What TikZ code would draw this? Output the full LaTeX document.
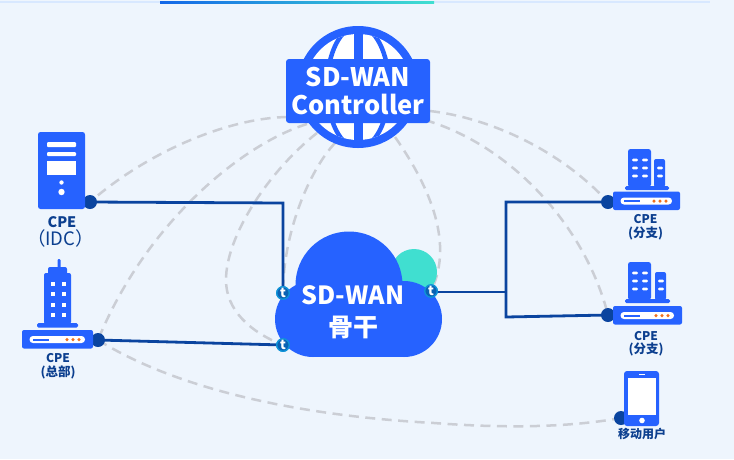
\documentclass[tikz,border=0pt]{standalone}
\usepackage{fontspec}
\setmainfont{Noto Sans CJK SC}
\definecolor{bgc}{HTML}{EEF5FD}
\definecolor{barc}{HTML}{D8E8FF}
\definecolor{barl}{HTML}{1367E8}
\definecolor{mainb}{HTML}{2662FF}
\definecolor{darkb}{HTML}{0A449F}
\definecolor{labelb}{HTML}{0C3F8F}
\definecolor{tealc}{HTML}{40DFD0}
\definecolor{grayd}{HTML}{CBCED5}
\definecolor{orangec}{HTML}{F0701E}
\definecolor{badgec}{HTML}{0E93D8}
\definecolor{badgei}{HTML}{0A62B4}
\pgfdeclarelayer{under}
\pgfsetlayers{under,main}
\tikzset{
  link/.style={draw=darkb,line width=2.8pt,line join=miter},
  sig/.style={draw=grayd,line width=2.5pt,dash pattern=on 10pt off 6.5pt},
  port/.style={circle,fill=darkb,inner sep=0pt,minimum size=14pt},
  badge/.style={circle,fill=badgei,draw=badgec,line width=1.3pt,inner sep=0pt,minimum size=12.5pt,text=white,font=\bfseries\fontsize{13}{13}\selectfont},
  lab/.style={text=labelb,inner sep=0pt,font=\bfseries\fontsize{12}{13}\selectfont},
  slab/.style={text=labelb,inner sep=0pt,font=\bfseries\fontsize{12.5}{13}\selectfont},
}
\newcommand{\routerbox}[3]{% left, right, top
  \fill[mainb,rounded corners=2pt] (#1,#3) rectangle (#2,#3+18.5);
  \fill[white,rounded corners=3.4pt] (#1+7.5,#3+6) rectangle (#2-8,#3+13);
  \fill[mainb] (#1+11,#3+8.7) rectangle (#1+27,#3+10.7);
  \foreach \dx in {0,6,12} {\fill[orangec] (#2-26+\dx,#3+9.6) circle (1.7pt);}
}
\newcommand{\branchicon}[2]{% dy, small-bldg x shift
  \begin{scope}[yshift=-#1pt]
  \fill[mainb,rounded corners=2.5pt] (628,149) -- (651,149) -- (651,187) -- (628,187) -- cycle;
  \fill[mainb,rounded corners=2pt] (654+#2,159) -- (665+#2,159) -- (665+#2,187) -- (654+#2,187) -- cycle;
  \fill[mainb,rounded corners=1.5pt] (625,186) rectangle (669+#2,190);
  \foreach \ry in {160,168,176} {
    \fill[white,rounded corners=1.2pt] (632,\ry-1.3) rectangle (638,\ry+1.3);
    \fill[white,rounded corners=1.2pt] (642,\ry-1.3) rectangle (648,\ry+1.3);
  }
  \foreach \ry in {168,176} {\fill[white,rounded corners=1.2pt] (657+#2,\ry-1.3) rectangle (663+#2,\ry+1.3);}
  \end{scope}
}
\begin{document}
\begin{tikzpicture}[x=1pt,y=-1pt]
\useasboundingbox (0,0) rectangle (734,459);

% named anchors
\node[port] (pIDC) at (90,202) {};
\node[port] (pHQ) at (98,340) {};
\node[port] (pB1) at (608,202) {};
\node[port] (pB2) at (608,315) {};
\node[port] (pM) at (621,418) {};
\node[badge] (t1) at (283,293) {};
\node[badge] (t2) at (283,345) {};
\node[badge] (t3) at (431,291) {};
\coordinate (c1) at (287,117);
\coordinate (c2) at (307,124);
\coordinate (c3) at (317,133);
\coordinate (c4) at (335,143);
\coordinate (c5) at (430,111);
\coordinate (c6) at (395,137);
\coordinate (c7) at (425,120);
\coordinate (jn) at (506,292);

\begin{pgfonlayer}{under}
\fill[bgc] (0,0) rectangle (734,459);
\fill[barc] (0,1) rectangle (710,3);
\shade[left color=barl,right color=tealc] (160,1) rectangle (434,3);
% dashed signalling curves
\draw[sig] (c1) .. controls (230,118) and (150,150) .. (pIDC.center);
\draw[sig] (c2) .. controls (240,145) and (145,225) .. (pHQ.center);
\draw[sig] (c3) .. controls (270,170) and (226,235) .. (226,280) .. controls (226,310) and (250,332) .. (t2.center);
\draw[sig] (c4) .. controls (308,172) and (283,235) .. (t1.center);
\draw[sig] (c5) .. controls (490,118) and (560,150) .. (pB1.center);
\draw[sig] (c6) .. controls (425,180) and (456,240) .. (t3.center);
\draw[sig] (c7) .. controls (510,145) and (585,225) .. (pB2.center);
\draw[sig] (pHQ.center) .. controls (170,385) and (285,415) .. (434,423) .. controls (500,428) and (565,428) .. (pM.center);
% solid links
\draw[link] (pIDC.center) -- (283,203) -- (t1.center);
\draw[link] (pHQ.center) -- (t2.center);
\draw[link] (t3.center |- jn) -- (jn);
\draw[link] (pB1.center) -- (506,202) -- (506,317) -- (pB2.center);
\end{pgfonlayer}

% globe
\fill[mainb] (358,87) circle (61pt);
\begin{scope}
  \clip (358,87) circle (53pt);
  \fill[white] (297,26) rectangle (419,148);
  \draw[mainb,line width=4.5pt] (358,87) ellipse (31pt and 61pt);
  \fill[mainb] (353.5,20) rectangle (362.5,150);
\end{scope}
\fill[mainb,rounded corners=3pt] (286,59) rectangle (430,123);
\node[text=white,align=center,inner sep=0pt,font=\bfseries\fontsize{25.5}{28}\selectfont] (ctrl) at (358,91.5) {SD-WAN\\Controller};

% cloud
\fill[tealc] (414,272) circle (23pt);
\fill[mainb] (349,285) circle (53.5pt);
\fill[mainb] (313,319) circle (38pt);
\fill[mainb] (404,319) circle (38pt);
\fill[mainb] (313,300) rectangle (404,357);
\node[text=white,align=center,inner sep=0pt,font=\bfseries\fontsize{25}{32}\selectfont] (cloud) at (353,312) {SD-WAN\\骨干};
\node[badge] at (t1) {t};
\node[badge] at (t2) {t};
\node[badge] at (t3) {t};

% IDC server
\fill[mainb,rounded corners=2.5pt] (38,132) rectangle (85,209);
\fill[white,rounded corners=1pt] (47,142) rectangle (76,147);
\fill[white,rounded corners=1pt] (47,152) rectangle (76,156);
\fill[white] (47,161) rectangle (76,175);
\fill[white] (61.5,182.5) circle (2.2pt);
\fill[white] (61.5,192) circle (3.2pt);
\node[lab,font=\bfseries\fontsize{14.5}{15}\selectfont] (l1) at (62,222) {CPE};
\node[lab,font=\fontsize{18.5}{19}\selectfont] (l2) at (60.5,238) {（IDC）};

% HQ
\fill[mainb,rounded corners=1pt] (57.5,259) rectangle (60.5,270);
\fill[mainb,rounded corners=2pt] (48,267) rectangle (67,276);
\fill[mainb,rounded corners=2pt] (44,273) rectangle (71,324);
\fill[mainb,rounded corners=1.5pt] (37,323) rectangle (78,327.5);
\foreach \ry in {284,294,305,315} {
  \fill[white] (51,\ry-2) rectangle (55,\ry+2);
  \fill[white] (62,\ry-2) rectangle (66,\ry+2);
}
\routerbox{22}{93}{330}
\node[lab] (l3) at (58,358.5) {CPE};
\node[slab] (l4) at (58,372.5) {(总部)};

% branches
\branchicon{0}{0}
\routerbox{613}{680}{191.5}
\node[lab] (l5) at (645.5,219) {CPE};
\node[slab] (l6) at (645.5,233) {(分支)};
\branchicon{113}{1}
\routerbox{613}{682}{306}
\node[lab] (l7) at (646,336) {CPE};
\node[slab] (l8) at (646,349) {(分支)};

% mobile
\fill[mainb,rounded corners=3pt] (624,371) rectangle (659,426);
\fill[white] (628,378) rectangle (656,415);
\fill[white] (639,373.6) rectangle (645,374.8);
\fill[white] (642,420.5) circle (2.8pt);
\node[lab] (l9) at (642,434) {移动用户};
\end{tikzpicture}
\end{document}
